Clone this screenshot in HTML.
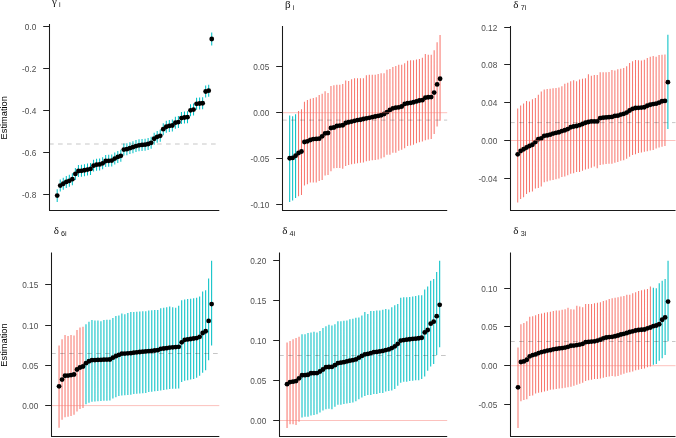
<!DOCTYPE html>
<html><head><meta charset="utf-8"><title>Estimation panels</title>
<style>html,body{margin:0;padding:0;background:#fff;overflow:hidden}svg{display:block}.tk{font-family:"Liberation Sans",Arial,sans-serif;font-size:8.25px;fill:#4d4d4d}.yl{font-family:"Liberation Sans",Arial,sans-serif;font-size:9.3px;fill:#000}.tg{font-family:"Liberation Serif","DejaVu Serif",serif;font-size:11px;fill:#111}.ts{font-family:"Liberation Sans",Arial,sans-serif;font-size:7.2px;fill:#1a1a1a}</style></head><body>
<svg width="676" height="438" viewBox="0 0 676 438">
<rect width="676" height="438" fill="#fff"/>
<g>
<path d="M57.20 189.30V201.90M60.23 179.60V191.56M63.26 177.77V189.74M66.29 175.92V187.89M69.32 174.83V186.80M72.35 173.21V185.18M75.38 167.92V179.89M78.41 164.98V176.95M81.44 164.81V176.78M84.47 164.27V176.24M87.50 163.59V175.56M90.53 162.96V174.93M93.56 159.65V171.62M96.59 158.70V170.67M99.62 158.43V170.40M102.65 157.34V169.31M105.68 155.03V167.00M108.71 154.82V166.78M111.74 154.61V166.57M114.77 152.59V164.56M117.80 150.93V162.90M120.83 149.84V161.81M123.86 143.62V155.59M126.89 143.16V155.13M129.92 142.15V154.12M132.95 141.16V153.13M135.98 140.07V152.04M139.01 139.32V151.29M142.04 138.96V150.93M145.07 138.71V150.68M148.10 138.06V150.03M151.13 136.86V148.83M154.16 132.77V144.73M157.19 130.88V142.84M160.22 129.82V141.79M163.25 123.17V135.14M166.28 120.79V132.76M169.31 119.95V131.92M172.34 119.53V131.50M175.37 116.70V128.67M178.40 116.11V128.08M181.43 112.12V124.09M184.46 111.56V123.53M187.49 111.20V123.17M190.52 104.35V116.32M193.55 103.57V115.55M196.58 97.84V109.81M199.61 97.48V109.46M202.64 97.28V109.25M205.67 85.51V97.49M208.70 84.67V96.65M211.73 32.49V45.51" stroke="#00BFC4" stroke-width="1.03" fill="none"/>
<line x1="49.0" y1="144.00" x2="219.3" y2="144.00" stroke="#000" stroke-opacity="0.24" stroke-width="0.95" stroke-dasharray="4.7 4.3"/>
<circle cx="57.20" cy="195.60" r="2.42" fill="#000"/>
<circle cx="60.23" cy="185.58" r="2.42" fill="#000"/>
<circle cx="63.26" cy="183.75" r="2.42" fill="#000"/>
<circle cx="66.29" cy="181.91" r="2.42" fill="#000"/>
<circle cx="69.32" cy="180.81" r="2.42" fill="#000"/>
<circle cx="72.35" cy="179.20" r="2.42" fill="#000"/>
<circle cx="75.38" cy="173.90" r="2.42" fill="#000"/>
<circle cx="78.41" cy="170.96" r="2.42" fill="#000"/>
<circle cx="81.44" cy="170.80" r="2.42" fill="#000"/>
<circle cx="84.47" cy="170.25" r="2.42" fill="#000"/>
<circle cx="87.50" cy="169.58" r="2.42" fill="#000"/>
<circle cx="90.53" cy="168.95" r="2.42" fill="#000"/>
<circle cx="93.56" cy="165.63" r="2.42" fill="#000"/>
<circle cx="96.59" cy="164.69" r="2.42" fill="#000"/>
<circle cx="99.62" cy="164.41" r="2.42" fill="#000"/>
<circle cx="102.65" cy="163.32" r="2.42" fill="#000"/>
<circle cx="105.68" cy="161.01" r="2.42" fill="#000"/>
<circle cx="108.71" cy="160.80" r="2.42" fill="#000"/>
<circle cx="111.74" cy="160.59" r="2.42" fill="#000"/>
<circle cx="114.77" cy="158.57" r="2.42" fill="#000"/>
<circle cx="117.80" cy="156.92" r="2.42" fill="#000"/>
<circle cx="120.83" cy="155.82" r="2.42" fill="#000"/>
<circle cx="123.86" cy="149.61" r="2.42" fill="#000"/>
<circle cx="126.89" cy="149.15" r="2.42" fill="#000"/>
<circle cx="129.92" cy="148.14" r="2.42" fill="#000"/>
<circle cx="132.95" cy="147.15" r="2.42" fill="#000"/>
<circle cx="135.98" cy="146.06" r="2.42" fill="#000"/>
<circle cx="139.01" cy="145.30" r="2.42" fill="#000"/>
<circle cx="142.04" cy="144.94" r="2.42" fill="#000"/>
<circle cx="145.07" cy="144.69" r="2.42" fill="#000"/>
<circle cx="148.10" cy="144.04" r="2.42" fill="#000"/>
<circle cx="151.13" cy="142.84" r="2.42" fill="#000"/>
<circle cx="154.16" cy="138.75" r="2.42" fill="#000"/>
<circle cx="157.19" cy="136.86" r="2.42" fill="#000"/>
<circle cx="160.22" cy="135.81" r="2.42" fill="#000"/>
<circle cx="163.25" cy="129.15" r="2.42" fill="#000"/>
<circle cx="166.28" cy="126.78" r="2.42" fill="#000"/>
<circle cx="169.31" cy="125.94" r="2.42" fill="#000"/>
<circle cx="172.34" cy="125.52" r="2.42" fill="#000"/>
<circle cx="175.37" cy="122.69" r="2.42" fill="#000"/>
<circle cx="178.40" cy="122.10" r="2.42" fill="#000"/>
<circle cx="181.43" cy="118.11" r="2.42" fill="#000"/>
<circle cx="184.46" cy="117.54" r="2.42" fill="#000"/>
<circle cx="187.49" cy="117.18" r="2.42" fill="#000"/>
<circle cx="190.52" cy="110.34" r="2.42" fill="#000"/>
<circle cx="193.55" cy="109.56" r="2.42" fill="#000"/>
<circle cx="196.58" cy="103.83" r="2.42" fill="#000"/>
<circle cx="199.61" cy="103.47" r="2.42" fill="#000"/>
<circle cx="202.64" cy="103.26" r="2.42" fill="#000"/>
<circle cx="205.67" cy="91.50" r="2.42" fill="#000"/>
<circle cx="208.70" cy="90.66" r="2.42" fill="#000"/>
<circle cx="211.73" cy="39.00" r="2.42" fill="#000"/>
<path d="M49.50 24.00V210.50H219.30" stroke="#1a1a1a" stroke-width="1.05" fill="none"/>
<line x1="43.20" y1="26.50" x2="49.50" y2="26.50" stroke="#222" stroke-width="1"/>
<text class="tk" x="36.30" y="29.70" text-anchor="end">0.0</text>
<line x1="43.20" y1="68.50" x2="49.50" y2="68.50" stroke="#222" stroke-width="1"/>
<text class="tk" x="36.30" y="71.70" text-anchor="end">-0.2</text>
<line x1="43.20" y1="110.50" x2="49.50" y2="110.50" stroke="#222" stroke-width="1"/>
<text class="tk" x="36.30" y="113.70" text-anchor="end">-0.4</text>
<line x1="43.20" y1="152.50" x2="49.50" y2="152.50" stroke="#222" stroke-width="1"/>
<text class="tk" x="36.30" y="155.70" text-anchor="end">-0.6</text>
<line x1="43.20" y1="194.50" x2="49.50" y2="194.50" stroke="#222" stroke-width="1"/>
<text class="tk" x="36.30" y="197.70" text-anchor="end">-0.8</text>
<text x="52.00" y="5.30"><tspan class="tg">γ</tspan><tspan class="ts" dx="2.2" dy="1.6">i</tspan></text>
<text class="yl" transform="translate(7.2 117.75) rotate(-90)" text-anchor="middle">Estimation</text>
</g>
<g>
<path d="M298.54 111.05V196.32M301.49 109.31V195.04M304.44 101.72V185.54M307.39 99.99V184.26M310.34 98.71V182.52M313.28 97.98V182.52M316.23 97.24V182.52M319.18 94.96V180.97M322.13 93.68V179.96M325.08 91.21V175.48M328.02 92.95V174.93M330.97 86.09V171.19M333.92 85.36V168.35M336.87 84.63V167.90M339.82 84.63V167.90M342.76 84.08V168.63M345.71 80.43V165.89M348.66 81.07V164.88M351.61 79.15V164.15M354.56 78.32V163.72M357.50 78.32V163.28M360.45 78.32V162.85M363.40 78.32V162.41M366.35 75.31V161.13M369.30 74.85V160.74M372.24 74.85V160.36M375.19 74.85V159.97M378.14 74.12V159.58M381.09 73.30V158.57M384.04 73.30V157.29M386.98 69.82V154.83M389.93 69.00V154.83M392.88 66.99V152.82M395.83 65.99V152.82M398.78 64.80V150.81M401.72 64.80V149.80M404.67 63.24V148.25M407.62 60.68V146.05M410.57 60.23V145.41M413.52 60.23V144.77M416.46 59.50V143.31M419.41 59.04V142.21M422.36 57.76V141.48M425.31 54.01V140.20M428.26 54.74V139.61M431.20 54.74V139.01M434.15 50.17V133.99M437.10 42.13V126.40M440.05 35.09V120.64" stroke="#F8766D" stroke-width="1.03" fill="none"/>
<path d="M289.70 115.62V201.90M292.65 116.26V200.62M295.60 114.34V198.06" stroke="#00BFC4" stroke-width="1.03" fill="none"/>
<line x1="282.0" y1="120.10" x2="447.2" y2="120.10" stroke="#000" stroke-opacity="0.24" stroke-width="0.95" stroke-dasharray="4.7 4.3"/>
<circle cx="289.70" cy="158.21" r="2.42" fill="#000"/>
<circle cx="292.65" cy="157.93" r="2.42" fill="#000"/>
<circle cx="295.60" cy="155.74" r="2.42" fill="#000"/>
<circle cx="298.54" cy="153.00" r="2.42" fill="#000"/>
<circle cx="301.49" cy="151.54" r="2.42" fill="#000"/>
<circle cx="304.44" cy="142.03" r="2.42" fill="#000"/>
<circle cx="307.39" cy="141.30" r="2.42" fill="#000"/>
<circle cx="310.34" cy="140.02" r="2.42" fill="#000"/>
<circle cx="313.28" cy="139.11" r="2.42" fill="#000"/>
<circle cx="316.23" cy="138.92" r="2.42" fill="#000"/>
<circle cx="319.18" cy="138.65" r="2.42" fill="#000"/>
<circle cx="322.13" cy="136.36" r="2.42" fill="#000"/>
<circle cx="325.08" cy="133.44" r="2.42" fill="#000"/>
<circle cx="328.02" cy="132.98" r="2.42" fill="#000"/>
<circle cx="330.97" cy="127.96" r="2.42" fill="#000"/>
<circle cx="333.92" cy="127.50" r="2.42" fill="#000"/>
<circle cx="336.87" cy="126.04" r="2.42" fill="#000"/>
<circle cx="339.82" cy="125.58" r="2.42" fill="#000"/>
<circle cx="342.76" cy="125.21" r="2.42" fill="#000"/>
<circle cx="345.71" cy="123.02" r="2.42" fill="#000"/>
<circle cx="348.66" cy="122.29" r="2.42" fill="#000"/>
<circle cx="351.61" cy="121.56" r="2.42" fill="#000"/>
<circle cx="354.56" cy="120.83" r="2.42" fill="#000"/>
<circle cx="357.50" cy="120.09" r="2.42" fill="#000"/>
<circle cx="360.45" cy="119.73" r="2.42" fill="#000"/>
<circle cx="363.40" cy="119.00" r="2.42" fill="#000"/>
<circle cx="366.35" cy="118.36" r="2.42" fill="#000"/>
<circle cx="369.30" cy="117.81" r="2.42" fill="#000"/>
<circle cx="372.24" cy="117.17" r="2.42" fill="#000"/>
<circle cx="375.19" cy="116.53" r="2.42" fill="#000"/>
<circle cx="378.14" cy="115.89" r="2.42" fill="#000"/>
<circle cx="381.09" cy="115.25" r="2.42" fill="#000"/>
<circle cx="384.04" cy="113.97" r="2.42" fill="#000"/>
<circle cx="386.98" cy="112.14" r="2.42" fill="#000"/>
<circle cx="389.93" cy="109.95" r="2.42" fill="#000"/>
<circle cx="392.88" cy="108.30" r="2.42" fill="#000"/>
<circle cx="395.83" cy="107.66" r="2.42" fill="#000"/>
<circle cx="398.78" cy="107.30" r="2.42" fill="#000"/>
<circle cx="401.72" cy="106.48" r="2.42" fill="#000"/>
<circle cx="404.67" cy="103.92" r="2.42" fill="#000"/>
<circle cx="407.62" cy="103.28" r="2.42" fill="#000"/>
<circle cx="410.57" cy="102.91" r="2.42" fill="#000"/>
<circle cx="413.52" cy="102.27" r="2.42" fill="#000"/>
<circle cx="416.46" cy="101.45" r="2.42" fill="#000"/>
<circle cx="419.41" cy="100.54" r="2.42" fill="#000"/>
<circle cx="422.36" cy="100.17" r="2.42" fill="#000"/>
<circle cx="425.31" cy="97.70" r="2.42" fill="#000"/>
<circle cx="428.26" cy="97.24" r="2.42" fill="#000"/>
<circle cx="431.20" cy="97.06" r="2.42" fill="#000"/>
<circle cx="434.15" cy="92.58" r="2.42" fill="#000"/>
<circle cx="437.10" cy="84.45" r="2.42" fill="#000"/>
<circle cx="440.05" cy="78.78" r="2.42" fill="#000"/>
<line x1="282.5" y1="112.70" x2="447.2" y2="112.70" stroke="#F8766D" stroke-opacity="0.45" stroke-width="1"/>
<path d="M282.50 26.00V210.50H447.20" stroke="#1a1a1a" stroke-width="1.05" fill="none"/>
<line x1="276.20" y1="66.50" x2="282.50" y2="66.50" stroke="#222" stroke-width="1"/>
<text class="tk" x="269.30" y="69.70" text-anchor="end">0.05</text>
<line x1="276.20" y1="112.50" x2="282.50" y2="112.50" stroke="#222" stroke-width="1"/>
<text class="tk" x="269.30" y="115.70" text-anchor="end">0.00</text>
<line x1="276.20" y1="158.50" x2="282.50" y2="158.50" stroke="#222" stroke-width="1"/>
<text class="tk" x="269.30" y="161.70" text-anchor="end">-0.05</text>
<line x1="276.20" y1="204.50" x2="282.50" y2="204.50" stroke="#222" stroke-width="1"/>
<text class="tk" x="269.30" y="207.70" text-anchor="end">-0.10</text>
<text x="285.00" y="8.00"><tspan class="tg">β</tspan><tspan class="ts" dx="2.2" dy="1.6">i</tspan></text>
</g>
<g>
<path d="M517.70 108.56V202.40M520.65 105.53V199.09M523.59 103.46V197.29M526.54 100.90V194.08M529.48 101.47V192.29M532.43 99.20V191.53M535.37 97.88V188.51M538.32 94.67V187.94M541.26 91.55V186.43M544.21 89.56V182.17M547.15 89.09V181.61M550.10 88.71V180.38M553.04 88.34V180.10M555.99 87.96V179.15M558.93 87.58V178.39M561.88 86.26V177.07M564.82 83.80V176.60M567.77 82.86V175.37M570.71 81.25V173.76M573.66 80.21V173.29M576.60 81.25V172.06M579.55 79.45V172.06M582.49 78.79V170.74M585.44 78.13V169.51M588.38 74.35V168.76M591.33 75.67V167.72M594.27 75.11V166.49M597.22 75.11V168.28M600.16 72.37V164.98M603.11 72.37V164.41M606.05 72.13V164.03M609.00 71.89V163.65M611.94 70.10V163.65M614.88 70.57V162.71M617.83 69.34V161.95M620.78 68.73V160.63M623.72 68.11V160.16M626.67 66.32V158.64M629.61 63.01V156.85M632.56 61.21V155.05M635.50 59.99V154.30M638.45 60.22V153.07M641.39 60.46V152.45M644.34 59.70V151.84M647.28 57.91V151.27M650.23 56.68V150.52M653.17 55.92V150.04M656.12 56.68V148.53M659.06 54.88V147.49M662.00 54.65V146.74M664.95 54.41V145.98" stroke="#F8766D" stroke-width="1.03" fill="none"/>
<path d="M667.89 34.66V129.07" stroke="#00BFC4" stroke-width="1.03" fill="none"/>
<line x1="510.0" y1="122.60" x2="675.5" y2="122.60" stroke="#000" stroke-opacity="0.24" stroke-width="0.95" stroke-dasharray="4.7 4.3"/>
<circle cx="517.70" cy="154.30" r="2.42" fill="#000"/>
<circle cx="520.65" cy="150.99" r="2.42" fill="#000"/>
<circle cx="523.59" cy="149.29" r="2.42" fill="#000"/>
<circle cx="526.54" cy="147.49" r="2.42" fill="#000"/>
<circle cx="529.48" cy="145.98" r="2.42" fill="#000"/>
<circle cx="532.43" cy="144.75" r="2.42" fill="#000"/>
<circle cx="535.37" cy="142.11" r="2.42" fill="#000"/>
<circle cx="538.32" cy="139.18" r="2.42" fill="#000"/>
<circle cx="541.26" cy="138.42" r="2.42" fill="#000"/>
<circle cx="544.21" cy="135.87" r="2.42" fill="#000"/>
<circle cx="547.15" cy="135.40" r="2.42" fill="#000"/>
<circle cx="550.10" cy="134.64" r="2.42" fill="#000"/>
<circle cx="553.04" cy="133.60" r="2.42" fill="#000"/>
<circle cx="555.99" cy="132.85" r="2.42" fill="#000"/>
<circle cx="558.93" cy="132.28" r="2.42" fill="#000"/>
<circle cx="561.88" cy="131.05" r="2.42" fill="#000"/>
<circle cx="564.82" cy="130.29" r="2.42" fill="#000"/>
<circle cx="567.77" cy="129.07" r="2.42" fill="#000"/>
<circle cx="570.71" cy="127.27" r="2.42" fill="#000"/>
<circle cx="573.66" cy="126.51" r="2.42" fill="#000"/>
<circle cx="576.60" cy="126.04" r="2.42" fill="#000"/>
<circle cx="579.55" cy="125.19" r="2.42" fill="#000"/>
<circle cx="582.49" cy="123.96" r="2.42" fill="#000"/>
<circle cx="585.44" cy="122.73" r="2.42" fill="#000"/>
<circle cx="588.38" cy="121.98" r="2.42" fill="#000"/>
<circle cx="591.33" cy="121.41" r="2.42" fill="#000"/>
<circle cx="594.27" cy="121.41" r="2.42" fill="#000"/>
<circle cx="597.22" cy="121.41" r="2.42" fill="#000"/>
<circle cx="600.16" cy="118.20" r="2.42" fill="#000"/>
<circle cx="603.11" cy="117.63" r="2.42" fill="#000"/>
<circle cx="606.05" cy="117.39" r="2.42" fill="#000"/>
<circle cx="609.00" cy="117.16" r="2.42" fill="#000"/>
<circle cx="611.94" cy="116.88" r="2.42" fill="#000"/>
<circle cx="614.88" cy="115.93" r="2.42" fill="#000"/>
<circle cx="617.83" cy="115.65" r="2.42" fill="#000"/>
<circle cx="620.78" cy="114.61" r="2.42" fill="#000"/>
<circle cx="623.72" cy="113.85" r="2.42" fill="#000"/>
<circle cx="626.67" cy="112.62" r="2.42" fill="#000"/>
<circle cx="629.61" cy="110.54" r="2.42" fill="#000"/>
<circle cx="632.56" cy="108.84" r="2.42" fill="#000"/>
<circle cx="635.50" cy="107.99" r="2.42" fill="#000"/>
<circle cx="638.45" cy="107.80" r="2.42" fill="#000"/>
<circle cx="641.39" cy="107.61" r="2.42" fill="#000"/>
<circle cx="644.34" cy="107.24" r="2.42" fill="#000"/>
<circle cx="647.28" cy="105.72" r="2.42" fill="#000"/>
<circle cx="650.23" cy="104.78" r="2.42" fill="#000"/>
<circle cx="653.17" cy="104.12" r="2.42" fill="#000"/>
<circle cx="656.12" cy="103.65" r="2.42" fill="#000"/>
<circle cx="659.06" cy="102.70" r="2.42" fill="#000"/>
<circle cx="662.00" cy="101.28" r="2.42" fill="#000"/>
<circle cx="664.95" cy="100.90" r="2.42" fill="#000"/>
<circle cx="667.89" cy="82.19" r="2.42" fill="#000"/>
<line x1="510.5" y1="140.50" x2="675.5" y2="140.50" stroke="#F8766D" stroke-opacity="0.45" stroke-width="1"/>
<path d="M510.50 26.00V210.40H675.50" stroke="#1a1a1a" stroke-width="1.05" fill="none"/>
<line x1="504.20" y1="27.50" x2="510.50" y2="27.50" stroke="#222" stroke-width="1"/>
<text class="tk" x="497.30" y="30.70" text-anchor="end">0.12</text>
<line x1="504.20" y1="64.50" x2="510.50" y2="64.50" stroke="#222" stroke-width="1"/>
<text class="tk" x="497.30" y="67.70" text-anchor="end">0.08</text>
<line x1="504.20" y1="102.50" x2="510.50" y2="102.50" stroke="#222" stroke-width="1"/>
<text class="tk" x="497.30" y="105.70" text-anchor="end">0.04</text>
<line x1="504.20" y1="140.50" x2="510.50" y2="140.50" stroke="#222" stroke-width="1"/>
<text class="tk" x="497.30" y="143.70" text-anchor="end">0.00</text>
<line x1="504.20" y1="178.50" x2="510.50" y2="178.50" stroke="#222" stroke-width="1"/>
<text class="tk" x="497.30" y="181.70" text-anchor="end">-0.04</text>
<text x="513.30" y="8.00"><tspan class="tg">δ</tspan><tspan class="ts" dx="2.2" dy="1.6">7i</tspan></text>
</g>
<g>
<path d="M59.05 345.56V427.82M62.04 339.26V419.82M65.03 334.98V417.31M68.03 336.03V416.67M71.02 334.98V416.02M74.01 335.54V414.81M77.00 329.97V411.49M79.99 327.46V408.99M82.99 326.74V408.02" stroke="#F8766D" stroke-width="1.03" fill="none"/>
<path d="M85.98 324.23V404.22M88.97 321.73V402.69M91.96 319.95V401.72M94.95 320.43V401.50M97.95 320.43V401.29M100.94 321.16V401.07M103.93 319.95V400.86M106.92 319.71V400.64M109.91 319.71V400.42M112.91 317.93V398.40M115.90 315.91V397.19M118.89 315.42V395.90M121.88 313.40V395.42M124.87 314.13V395.17M127.87 312.92V394.93M130.86 312.11V394.69M133.85 311.92V393.88M136.84 311.72V393.64M139.83 311.53V393.40M142.83 311.33V393.15M145.82 311.14V392.91M148.81 310.41V392.10M151.80 310.25V391.70M154.79 310.09V391.29M157.79 309.93V390.89M160.78 308.31V390.41M163.77 307.83V389.97M166.76 307.34V389.54M169.75 306.62V389.11M172.75 307.34V388.87M175.74 307.83V388.63M178.73 305.81V388.39M181.72 300.31V382.08M184.71 299.51V380.79M187.71 299.08V380.20M190.70 298.66V379.61M193.69 298.23V379.01M196.68 297.81V377.80M199.67 296.52V375.78M202.67 291.51V372.79M205.66 290.21V370.29M208.65 278.42V360.19M211.64 260.80V345.56" stroke="#00BFC4" stroke-width="1.03" fill="none"/>
<line x1="51.0" y1="353.50" x2="219.3" y2="353.50" stroke="#000" stroke-opacity="0.24" stroke-width="0.95" stroke-dasharray="4.7 4.3"/>
<circle cx="59.05" cy="386.37" r="2.42" fill="#000"/>
<circle cx="62.04" cy="379.58" r="2.42" fill="#000"/>
<circle cx="65.03" cy="375.78" r="2.42" fill="#000"/>
<circle cx="68.03" cy="375.62" r="2.42" fill="#000"/>
<circle cx="71.02" cy="375.05" r="2.42" fill="#000"/>
<circle cx="74.01" cy="374.49" r="2.42" fill="#000"/>
<circle cx="77.00" cy="369.48" r="2.42" fill="#000"/>
<circle cx="79.99" cy="367.46" r="2.42" fill="#000"/>
<circle cx="82.99" cy="366.49" r="2.42" fill="#000"/>
<circle cx="85.98" cy="363.18" r="2.42" fill="#000"/>
<circle cx="88.97" cy="361.24" r="2.42" fill="#000"/>
<circle cx="91.96" cy="360.19" r="2.42" fill="#000"/>
<circle cx="94.95" cy="360.07" r="2.42" fill="#000"/>
<circle cx="97.95" cy="359.94" r="2.42" fill="#000"/>
<circle cx="100.94" cy="359.82" r="2.42" fill="#000"/>
<circle cx="103.93" cy="359.70" r="2.42" fill="#000"/>
<circle cx="106.92" cy="359.58" r="2.42" fill="#000"/>
<circle cx="109.91" cy="359.46" r="2.42" fill="#000"/>
<circle cx="112.91" cy="357.68" r="2.42" fill="#000"/>
<circle cx="115.90" cy="356.15" r="2.42" fill="#000"/>
<circle cx="118.89" cy="354.93" r="2.42" fill="#000"/>
<circle cx="121.88" cy="353.64" r="2.42" fill="#000"/>
<circle cx="124.87" cy="353.56" r="2.42" fill="#000"/>
<circle cx="127.87" cy="353.36" r="2.42" fill="#000"/>
<circle cx="130.86" cy="353.16" r="2.42" fill="#000"/>
<circle cx="133.85" cy="352.67" r="2.42" fill="#000"/>
<circle cx="136.84" cy="352.35" r="2.42" fill="#000"/>
<circle cx="139.83" cy="352.03" r="2.42" fill="#000"/>
<circle cx="142.83" cy="351.70" r="2.42" fill="#000"/>
<circle cx="145.82" cy="351.38" r="2.42" fill="#000"/>
<circle cx="148.81" cy="351.14" r="2.42" fill="#000"/>
<circle cx="151.80" cy="350.81" r="2.42" fill="#000"/>
<circle cx="154.79" cy="350.49" r="2.42" fill="#000"/>
<circle cx="157.79" cy="350.17" r="2.42" fill="#000"/>
<circle cx="160.78" cy="348.87" r="2.42" fill="#000"/>
<circle cx="163.77" cy="348.51" r="2.42" fill="#000"/>
<circle cx="166.76" cy="348.15" r="2.42" fill="#000"/>
<circle cx="169.75" cy="347.58" r="2.42" fill="#000"/>
<circle cx="172.75" cy="347.34" r="2.42" fill="#000"/>
<circle cx="175.74" cy="347.10" r="2.42" fill="#000"/>
<circle cx="178.73" cy="346.85" r="2.42" fill="#000"/>
<circle cx="181.72" cy="342.33" r="2.42" fill="#000"/>
<circle cx="184.71" cy="339.82" r="2.42" fill="#000"/>
<circle cx="187.71" cy="339.39" r="2.42" fill="#000"/>
<circle cx="190.70" cy="338.96" r="2.42" fill="#000"/>
<circle cx="193.69" cy="338.53" r="2.42" fill="#000"/>
<circle cx="196.68" cy="338.05" r="2.42" fill="#000"/>
<circle cx="199.67" cy="336.84" r="2.42" fill="#000"/>
<circle cx="202.67" cy="333.04" r="2.42" fill="#000"/>
<circle cx="205.66" cy="331.26" r="2.42" fill="#000"/>
<circle cx="208.65" cy="320.92" r="2.42" fill="#000"/>
<circle cx="211.64" cy="304.11" r="2.42" fill="#000"/>
<line x1="51.5" y1="405.60" x2="219.3" y2="405.60" stroke="#F8766D" stroke-opacity="0.45" stroke-width="1"/>
<path d="M51.50 252.50V436.50H219.30" stroke="#1a1a1a" stroke-width="1.05" fill="none"/>
<line x1="45.20" y1="284.50" x2="51.50" y2="284.50" stroke="#222" stroke-width="1"/>
<text class="tk" x="38.30" y="287.70" text-anchor="end">0.15</text>
<line x1="45.20" y1="325.50" x2="51.50" y2="325.50" stroke="#222" stroke-width="1"/>
<text class="tk" x="38.30" y="328.70" text-anchor="end">0.10</text>
<line x1="45.20" y1="365.50" x2="51.50" y2="365.50" stroke="#222" stroke-width="1"/>
<text class="tk" x="38.30" y="368.70" text-anchor="end">0.05</text>
<line x1="45.20" y1="405.50" x2="51.50" y2="405.50" stroke="#222" stroke-width="1"/>
<text class="tk" x="38.30" y="408.70" text-anchor="end">0.00</text>
<text x="53.70" y="234.20"><tspan class="tg">δ</tspan><tspan class="ts" dx="2.2" dy="1.6">6i</tspan></text>
<text class="yl" transform="translate(7.2 345.00) rotate(-90)" text-anchor="middle">Estimation</text>
</g>
<g>
<path d="M287.05 342.54V428.05M290.04 341.01V424.35M293.04 339.31V424.35M296.03 338.02V425.07M299.02 336.81V421.77" stroke="#F8766D" stroke-width="1.03" fill="none"/>
<path d="M302.01 334.24V417.50M305.01 334.24V416.77M308.00 333.03V416.77M310.99 332.46V415.48M313.99 331.74V414.88M316.98 332.46V414.27M319.97 331.01V412.50M322.97 328.03V410.48M325.96 326.18V409.19M328.95 324.72V408.71M331.94 325.45V409.19M334.94 324.24V406.69M337.93 321.18V404.68M340.92 321.18V404.68M343.92 320.82V404.09M346.91 320.45V403.50M349.90 319.16V402.91M352.90 318.68V402.42M355.89 317.87V401.21M358.88 317.39V399.20M361.88 315.38V397.43M364.87 312.07V395.89M367.86 314.09V394.93M370.85 311.10V394.93M373.85 311.10V394.12M376.84 310.38V394.12M379.83 310.38V392.91M382.83 309.73V392.91M385.82 309.09V391.62M388.81 309.57V391.02M391.81 307.32V390.41M394.80 305.30V389.12M397.79 304.09V385.82M400.78 297.80V382.84M403.78 297.32V381.63M406.77 297.32V381.63M409.76 297.00V381.06M412.76 296.51V380.70M415.75 296.03V380.34M418.74 295.31V380.34M421.74 295.31V378.97M424.73 289.50V376.47M427.72 286.52V370.67M430.71 280.72V366.48M433.71 278.94V363.98M436.70 272.09V355.11M439.69 260.81V347.13" stroke="#00BFC4" stroke-width="1.03" fill="none"/>
<line x1="279.0" y1="355.50" x2="447.2" y2="355.50" stroke="#000" stroke-opacity="0.24" stroke-width="0.95" stroke-dasharray="4.7 4.3"/>
<circle cx="287.05" cy="384.13" r="2.42" fill="#000"/>
<circle cx="290.04" cy="382.11" r="2.42" fill="#000"/>
<circle cx="293.04" cy="381.63" r="2.42" fill="#000"/>
<circle cx="296.03" cy="381.06" r="2.42" fill="#000"/>
<circle cx="299.02" cy="378.32" r="2.42" fill="#000"/>
<circle cx="302.01" cy="375.26" r="2.42" fill="#000"/>
<circle cx="305.01" cy="375.18" r="2.42" fill="#000"/>
<circle cx="308.00" cy="374.78" r="2.42" fill="#000"/>
<circle cx="310.99" cy="373.25" r="2.42" fill="#000"/>
<circle cx="313.99" cy="373.17" r="2.42" fill="#000"/>
<circle cx="316.98" cy="373.08" r="2.42" fill="#000"/>
<circle cx="319.97" cy="371.47" r="2.42" fill="#000"/>
<circle cx="322.97" cy="369.46" r="2.42" fill="#000"/>
<circle cx="325.96" cy="367.20" r="2.42" fill="#000"/>
<circle cx="328.95" cy="366.96" r="2.42" fill="#000"/>
<circle cx="331.94" cy="366.80" r="2.42" fill="#000"/>
<circle cx="334.94" cy="365.19" r="2.42" fill="#000"/>
<circle cx="337.93" cy="363.17" r="2.42" fill="#000"/>
<circle cx="340.92" cy="362.69" r="2.42" fill="#000"/>
<circle cx="343.92" cy="362.20" r="2.42" fill="#000"/>
<circle cx="346.91" cy="361.40" r="2.42" fill="#000"/>
<circle cx="349.90" cy="360.67" r="2.42" fill="#000"/>
<circle cx="352.90" cy="360.19" r="2.42" fill="#000"/>
<circle cx="355.89" cy="359.38" r="2.42" fill="#000"/>
<circle cx="358.88" cy="357.69" r="2.42" fill="#000"/>
<circle cx="361.88" cy="355.92" r="2.42" fill="#000"/>
<circle cx="364.87" cy="354.39" r="2.42" fill="#000"/>
<circle cx="367.86" cy="353.90" r="2.42" fill="#000"/>
<circle cx="370.85" cy="353.10" r="2.42" fill="#000"/>
<circle cx="373.85" cy="352.13" r="2.42" fill="#000"/>
<circle cx="376.84" cy="351.89" r="2.42" fill="#000"/>
<circle cx="379.83" cy="351.40" r="2.42" fill="#000"/>
<circle cx="382.83" cy="350.92" r="2.42" fill="#000"/>
<circle cx="385.82" cy="350.11" r="2.42" fill="#000"/>
<circle cx="388.81" cy="349.39" r="2.42" fill="#000"/>
<circle cx="391.81" cy="348.10" r="2.42" fill="#000"/>
<circle cx="394.80" cy="346.33" r="2.42" fill="#000"/>
<circle cx="397.79" cy="343.83" r="2.42" fill="#000"/>
<circle cx="400.78" cy="340.60" r="2.42" fill="#000"/>
<circle cx="403.78" cy="340.12" r="2.42" fill="#000"/>
<circle cx="406.77" cy="339.64" r="2.42" fill="#000"/>
<circle cx="409.76" cy="339.23" r="2.42" fill="#000"/>
<circle cx="412.76" cy="338.83" r="2.42" fill="#000"/>
<circle cx="415.75" cy="338.67" r="2.42" fill="#000"/>
<circle cx="418.74" cy="338.23" r="2.42" fill="#000"/>
<circle cx="421.74" cy="337.78" r="2.42" fill="#000"/>
<circle cx="424.73" cy="332.38" r="2.42" fill="#000"/>
<circle cx="427.72" cy="329.96" r="2.42" fill="#000"/>
<circle cx="430.71" cy="323.68" r="2.42" fill="#000"/>
<circle cx="433.71" cy="321.66" r="2.42" fill="#000"/>
<circle cx="436.70" cy="316.18" r="2.42" fill="#000"/>
<circle cx="439.69" cy="304.82" r="2.42" fill="#000"/>
<line x1="279.5" y1="420.50" x2="447.2" y2="420.50" stroke="#F8766D" stroke-opacity="0.45" stroke-width="1"/>
<path d="M279.50 252.50V436.50H447.20" stroke="#1a1a1a" stroke-width="1.05" fill="none"/>
<line x1="273.20" y1="260.50" x2="279.50" y2="260.50" stroke="#222" stroke-width="1"/>
<text class="tk" x="266.30" y="263.70" text-anchor="end">0.20</text>
<line x1="273.20" y1="300.50" x2="279.50" y2="300.50" stroke="#222" stroke-width="1"/>
<text class="tk" x="266.30" y="303.70" text-anchor="end">0.15</text>
<line x1="273.20" y1="340.50" x2="279.50" y2="340.50" stroke="#222" stroke-width="1"/>
<text class="tk" x="266.30" y="343.70" text-anchor="end">0.10</text>
<line x1="273.20" y1="380.50" x2="279.50" y2="380.50" stroke="#222" stroke-width="1"/>
<text class="tk" x="266.30" y="383.70" text-anchor="end">0.05</text>
<line x1="273.20" y1="420.50" x2="279.50" y2="420.50" stroke="#222" stroke-width="1"/>
<text class="tk" x="266.30" y="423.70" text-anchor="end">0.00</text>
<text x="282.20" y="234.20"><tspan class="tg">δ</tspan><tspan class="ts" dx="2.2" dy="1.6">4i</tspan></text>
</g>
<g>
<path d="M518.00 347.57V428.10M520.94 324.23V401.18M523.88 322.91V399.93M526.83 321.20V399.15M529.77 316.69V395.89M532.71 316.14V395.42M535.65 315.36V393.40M538.59 314.12V392.77M541.54 313.57V392.15M544.48 312.87V391.61M547.42 312.25V390.71M550.36 311.63V389.82M553.30 311.08V389.58M556.25 310.38V389.08M559.19 310.38V388.57M562.13 309.76V388.34M565.07 309.14V387.83M568.01 307.82V387.33M570.96 309.14V386.63M573.90 309.61V385.85M576.84 305.79V384.84M579.78 306.57V383.83M582.72 307.35V382.82M585.67 304.08V381.03M588.61 304.08V380.33M591.55 304.08V379.67M594.49 303.30V379.00M597.43 302.84V379.00M600.38 302.29V378.38M603.32 301.05V377.76M606.26 300.27V377.06M609.20 299.03V376.55M612.14 298.33V376.05M615.09 297.78V376.51M618.03 297.16V376.05M620.97 296.54V374.80M623.91 295.99V373.79M626.85 294.82V372.78M629.80 294.82V372.24M632.74 293.27V371.53M635.68 292.26V370.21M638.62 291.01V369.75M641.56 290.23V369.12M644.51 289.61V368.50M647.45 288.99V367.26M650.39 286.50V366.48" stroke="#F8766D" stroke-width="1.03" fill="none"/>
<path d="M653.33 287.67V364.69M656.27 288.21V363.99M659.22 283.23V360.72M662.16 280.66V358.15M665.10 278.88V355.12M668.04 260.83V341.35" stroke="#00BFC4" stroke-width="1.03" fill="none"/>
<line x1="510.0" y1="341.50" x2="675.5" y2="341.50" stroke="#000" stroke-opacity="0.24" stroke-width="0.95" stroke-dasharray="4.7 4.3"/>
<circle cx="518.00" cy="387.33" r="2.42" fill="#000"/>
<circle cx="520.94" cy="361.97" r="2.42" fill="#000"/>
<circle cx="523.88" cy="361.42" r="2.42" fill="#000"/>
<circle cx="526.83" cy="359.71" r="2.42" fill="#000"/>
<circle cx="529.77" cy="356.36" r="2.42" fill="#000"/>
<circle cx="532.71" cy="355.12" r="2.42" fill="#000"/>
<circle cx="535.65" cy="354.42" r="2.42" fill="#000"/>
<circle cx="538.59" cy="353.10" r="2.42" fill="#000"/>
<circle cx="541.54" cy="352.08" r="2.42" fill="#000"/>
<circle cx="544.48" cy="351.38" r="2.42" fill="#000"/>
<circle cx="547.42" cy="350.61" r="2.42" fill="#000"/>
<circle cx="550.36" cy="350.14" r="2.42" fill="#000"/>
<circle cx="553.30" cy="349.36" r="2.42" fill="#000"/>
<circle cx="556.25" cy="348.90" r="2.42" fill="#000"/>
<circle cx="559.19" cy="348.43" r="2.42" fill="#000"/>
<circle cx="562.13" cy="348.12" r="2.42" fill="#000"/>
<circle cx="565.07" cy="347.57" r="2.42" fill="#000"/>
<circle cx="568.01" cy="346.87" r="2.42" fill="#000"/>
<circle cx="570.96" cy="345.78" r="2.42" fill="#000"/>
<circle cx="573.90" cy="345.55" r="2.42" fill="#000"/>
<circle cx="576.84" cy="345.08" r="2.42" fill="#000"/>
<circle cx="579.78" cy="344.62" r="2.42" fill="#000"/>
<circle cx="582.72" cy="343.84" r="2.42" fill="#000"/>
<circle cx="585.67" cy="342.13" r="2.42" fill="#000"/>
<circle cx="588.61" cy="341.89" r="2.42" fill="#000"/>
<circle cx="591.55" cy="341.62" r="2.42" fill="#000"/>
<circle cx="594.49" cy="341.35" r="2.42" fill="#000"/>
<circle cx="597.43" cy="340.57" r="2.42" fill="#000"/>
<circle cx="600.38" cy="339.64" r="2.42" fill="#000"/>
<circle cx="603.32" cy="338.31" r="2.42" fill="#000"/>
<circle cx="606.26" cy="337.54" r="2.42" fill="#000"/>
<circle cx="609.20" cy="337.07" r="2.42" fill="#000"/>
<circle cx="612.14" cy="336.84" r="2.42" fill="#000"/>
<circle cx="615.09" cy="336.29" r="2.42" fill="#000"/>
<circle cx="618.03" cy="335.51" r="2.42" fill="#000"/>
<circle cx="620.97" cy="334.50" r="2.42" fill="#000"/>
<circle cx="623.91" cy="333.80" r="2.42" fill="#000"/>
<circle cx="626.85" cy="333.02" r="2.42" fill="#000"/>
<circle cx="629.80" cy="332.01" r="2.42" fill="#000"/>
<circle cx="632.74" cy="331.31" r="2.42" fill="#000"/>
<circle cx="635.68" cy="330.53" r="2.42" fill="#000"/>
<circle cx="638.62" cy="329.99" r="2.42" fill="#000"/>
<circle cx="641.56" cy="329.76" r="2.42" fill="#000"/>
<circle cx="644.51" cy="329.52" r="2.42" fill="#000"/>
<circle cx="647.45" cy="328.36" r="2.42" fill="#000"/>
<circle cx="650.39" cy="327.50" r="2.42" fill="#000"/>
<circle cx="653.33" cy="326.18" r="2.42" fill="#000"/>
<circle cx="656.27" cy="325.48" r="2.42" fill="#000"/>
<circle cx="659.22" cy="324.23" r="2.42" fill="#000"/>
<circle cx="662.16" cy="319.72" r="2.42" fill="#000"/>
<circle cx="665.10" cy="317.39" r="2.42" fill="#000"/>
<circle cx="668.04" cy="301.59" r="2.42" fill="#000"/>
<line x1="510.5" y1="365.70" x2="675.5" y2="365.70" stroke="#F8766D" stroke-opacity="0.45" stroke-width="1"/>
<path d="M510.50 252.50V436.50H675.50" stroke="#1a1a1a" stroke-width="1.05" fill="none"/>
<line x1="504.20" y1="288.50" x2="510.50" y2="288.50" stroke="#222" stroke-width="1"/>
<text class="tk" x="497.30" y="291.70" text-anchor="end">0.10</text>
<line x1="504.20" y1="326.50" x2="510.50" y2="326.50" stroke="#222" stroke-width="1"/>
<text class="tk" x="497.30" y="329.70" text-anchor="end">0.05</text>
<line x1="504.20" y1="365.50" x2="510.50" y2="365.50" stroke="#222" stroke-width="1"/>
<text class="tk" x="497.30" y="368.70" text-anchor="end">0.00</text>
<line x1="504.20" y1="404.50" x2="510.50" y2="404.50" stroke="#222" stroke-width="1"/>
<text class="tk" x="497.30" y="407.70" text-anchor="end">-0.05</text>
<text x="513.30" y="234.20"><tspan class="tg">δ</tspan><tspan class="ts" dx="2.2" dy="1.6">3i</tspan></text>
</g>
</svg>
</body></html>
